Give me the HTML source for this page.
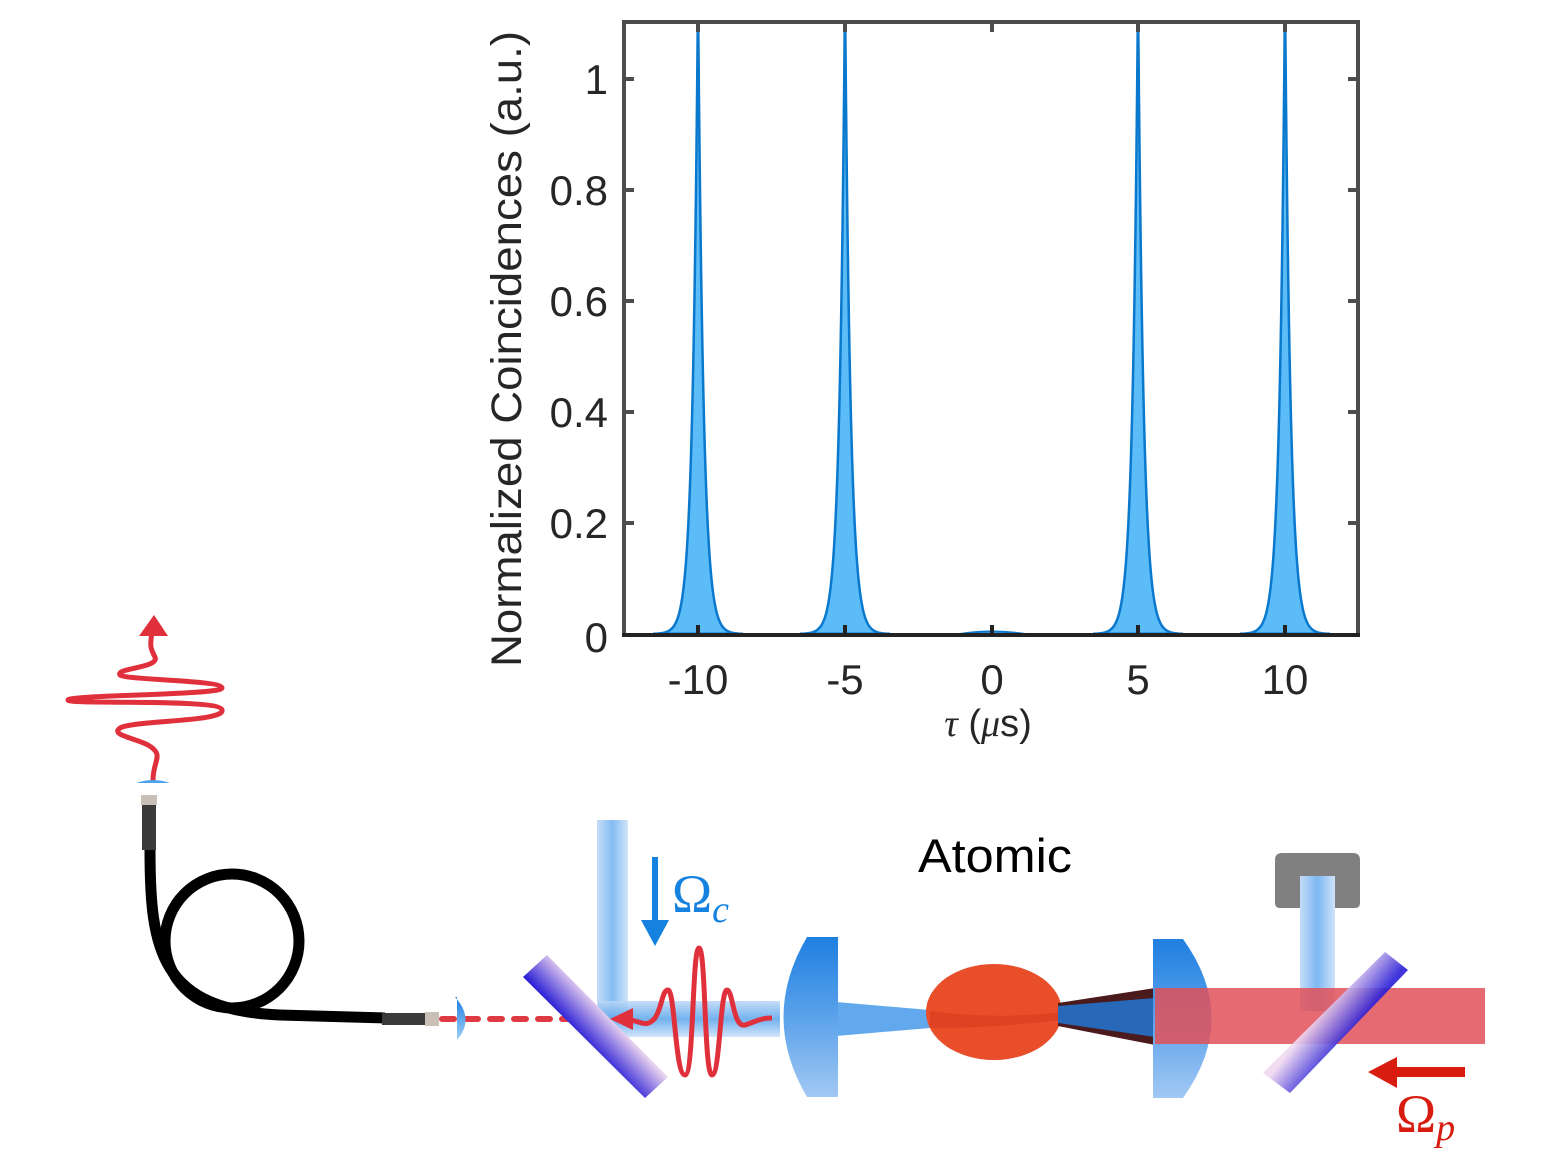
<!DOCTYPE html>
<html><head><meta charset="utf-8"><style>
html,body{margin:0;padding:0;background:#fff;}
svg{display:block}
text{font-family:"Liberation Sans",sans-serif;}
</style></head><body>
<svg id="s" width="1552" height="1155" viewBox="0 0 1552 1155" xmlns="http://www.w3.org/2000/svg">
<defs>
<clipPath id="pc"><rect x="626" y="24" width="730" height="610"/></clipPath>
<linearGradient id="mir1" gradientUnits="userSpaceOnUse" x1="582" y1="1039" x2="609" y2="1014">
<stop offset="0" stop-color="#2a1fd6"/><stop offset="1" stop-color="#f0d8f0"/></linearGradient>
<linearGradient id="mir2" gradientUnits="userSpaceOnUse" x1="1351" y1="1033" x2="1322" y2="1010">
<stop offset="0" stop-color="#2a1fd6"/><stop offset="1" stop-color="#f0d8f0"/></linearGradient>
<linearGradient id="lensg" x1="0" y1="0" x2="0" y2="1">
<stop offset="0" stop-color="#1f7fe0"/><stop offset="0.5" stop-color="#5aa2ea"/><stop offset="1" stop-color="#a2c8f3"/></linearGradient>
<linearGradient id="vbeam" x1="0" y1="0" x2="1" y2="0">
<stop offset="0" stop-color="#bcd8f6"/><stop offset="0.5" stop-color="#6fb0f0"/><stop offset="1" stop-color="#c9e0f8"/></linearGradient>
<linearGradient id="hbeam" x1="0" y1="0" x2="0" y2="1">
<stop offset="0" stop-color="#bcd8f6"/><stop offset="0.5" stop-color="#5aa4ec"/><stop offset="1" stop-color="#c9e0f8"/></linearGradient>
<linearGradient id="fibl" x1="0" y1="0" x2="0" y2="1">
<stop offset="0" stop-color="#1f7fe0"/><stop offset="1" stop-color="#9fd0f6"/></linearGradient>
</defs>

<g id="peaks" clip-path="url(#pc)"></g>
<rect x="624" y="22" width="734" height="613" fill="none" stroke="#4d4d4d" stroke-width="4"/>
<line x1="622" y1="635" x2="1360" y2="635" stroke="#222" stroke-width="4"/>
<g stroke="#4d4d4d" stroke-width="4">
<line x1="624" y1="79" x2="634" y2="79"/><line x1="624" y1="190" x2="634" y2="190"/><line x1="624" y1="301" x2="634" y2="301"/><line x1="624" y1="412" x2="634" y2="412"/><line x1="624" y1="523" x2="634" y2="523"/>
<line x1="1358" y1="79" x2="1348" y2="79"/><line x1="1358" y1="190" x2="1348" y2="190"/><line x1="1358" y1="301" x2="1348" y2="301"/><line x1="1358" y1="412" x2="1348" y2="412"/><line x1="1358" y1="523" x2="1348" y2="523"/>
<line x1="698" y1="22" x2="698" y2="32"/><line x1="845" y1="22" x2="845" y2="32"/><line x1="992" y1="22" x2="992" y2="32"/><line x1="1138" y1="22" x2="1138" y2="32"/><line x1="1285" y1="22" x2="1285" y2="32"/>
</g>
<g stroke="#222" stroke-width="4">
<line x1="698" y1="635" x2="698" y2="625"/><line x1="845" y1="635" x2="845" y2="625"/><line x1="992" y1="635" x2="992" y2="625"/><line x1="1138" y1="635" x2="1138" y2="625"/><line x1="1285" y1="635" x2="1285" y2="625"/>
</g>
<g font-size="42" fill="#262626" text-anchor="end">
<text x="608" y="94">1</text><text x="608" y="205">0.8</text><text x="608" y="316">0.6</text><text x="608" y="427">0.4</text><text x="608" y="538">0.2</text><text x="608" y="652">0</text>
</g>
<g font-size="42" fill="#262626" text-anchor="middle">
<text x="698" y="694">-10</text><text x="845" y="694">-5</text><text x="992" y="694">0</text><text x="1138" y="694">5</text><text x="1285" y="694">10</text>
</g>
<text x="988" y="736" font-size="38" fill="#262626" text-anchor="middle"><tspan style="font-family:'Liberation Serif',serif;font-style:italic">τ</tspan> (<tspan style="font-family:'Liberation Serif',serif;font-style:italic">μ</tspan>s)</text>
<text transform="translate(521,349) rotate(-90)" font-size="43" fill="#262626" text-anchor="middle" textLength="636" lengthAdjust="spacingAndGlyphs">Normalized Coincidences (a.u.)</text>

<path d="M153,780 C153,760 165,755 148,745 C135,738 110,735 120,728 C135,720 225,722 222,710 C220,698 68,705 68,700 C68,695 222,695 222,688 C222,680 125,680 120,675 C115,668 160,668 155,657 C150,648 150,645 152,632" fill="none" stroke="#e0303c" stroke-width="5" stroke-linecap="round"/>
<polygon points="139,636 154,615 168,636" fill="#e0303c"/>
<path d="M136,783 Q153,777 170,783 Z" fill="#4da3ea"/>
<rect x="141" y="795" width="16" height="10" fill="#c8bfb6"/>
<rect x="142" y="805" width="14" height="45" fill="#3a3a3a"/>
<path d="M150,850 C150,950 160,1010 280,1015 L385,1018" fill="none" stroke="#000" stroke-width="11"/>
<circle cx="232" cy="941" r="67" fill="none" stroke="#000" stroke-width="11"/>
<rect x="382" y="1013" width="45" height="12" fill="#3a3a3a"/>
<rect x="425" y="1012" width="14" height="14" fill="#c8bfb6"/>
<line x1="442" y1="1019" x2="608" y2="1019" stroke="#e03a44" stroke-width="6" stroke-dasharray="12,12" stroke-linecap="round"/>
<path d="M455,997 Q475,1019 457,1040 L457,997 Z" fill="url(#fibl)"/>

<rect x="597" y="820" width="31" height="200" fill="url(#vbeam)" opacity="0.85"/>
<rect x="598" y="1001" width="182" height="36" fill="url(#hbeam)" opacity="0.85"/>
<polygon points="836,1002 930,1010 930,1028 836,1036" fill="#62a8ec"/>
<polygon points="523,977 547,955 668,1077 645,1098" fill="url(#mir1)"/>
<path d="M622,1019 C640,1019 645,1030 655,1018 C662,1008 662,990 668,990 C675,990 675,1075 685,1075 C694,1075 692,948 699,948 C706,948 704,1075 712,1075 C720,1075 720,990 727,990 C733,990 733,1028 745,1025 C755,1022 760,1018 772,1018" fill="none" stroke="#e0303c" stroke-width="5"/>
<polygon points="610,1019 633,1008 633,1030" fill="#e0303c"/>
<path d="M807,937 L838,937 L838,1097 L807,1097 Q760,1017 807,937 Z" fill="url(#lensg)"/>
<ellipse cx="994" cy="1012" rx="68" ry="48" fill="#e84e2a"/>
<path d="M930,1011 Q995,1020 1062,1012 L1062,1020 Q995,1028 930,1028 Z" fill="#d63c1e" opacity="0.6"/>
<polygon points="1058,1003 1155,988 1155,1045 1058,1026" fill="#4a1a1c"/>
<polygon points="1058,1006 1155,998 1155,1037 1058,1023" fill="#2868b8"/>
<path d="M1275,860 Q1275,853 1282,853 L1353,853 Q1360,853 1360,860 L1360,903 Q1360,908 1355,908 L1335,908 L1335,876 L1300,876 L1300,908 L1280,908 Q1275,908 1275,903 Z" fill="#808080"/>
<rect x="1300" y="876" width="35" height="135" fill="url(#vbeam)" opacity="0.9"/>
<path d="M1153,939 L1183,939 Q1240,1018 1183,1098 L1153,1098 Z" fill="url(#lensg)"/>
<rect x="1155" y="988" width="330" height="56" fill="#e05058" opacity="0.85"/>
<polygon points="1385,952 1408,970 1290,1093 1263,1073" fill="url(#mir2)" opacity="0.9"/>
<line x1="1465" y1="1072" x2="1395" y2="1072" stroke="#d81c10" stroke-width="10"/>
<polygon points="1368,1072 1397,1057 1397,1088" fill="#d81c10"/>
<text x="1396" y="1132" style="font-family:'Liberation Serif',serif" font-size="54" fill="#d81c10">Ω<tspan font-style="italic" font-size="38" dy="8">p</tspan></text>
<line x1="655" y1="857" x2="655" y2="925" stroke="#1682e0" stroke-width="6"/>
<polygon points="641,920 655,946 669,920" fill="#1682e0"/>
<text x="672" y="912" style="font-family:'Liberation Serif',serif" font-size="54" fill="#1682e0">Ω<tspan font-style="italic" font-size="38" dy="10">c</tspan></text>
<text x="918" y="872" font-size="47" fill="#000" textLength="154" lengthAdjust="spacingAndGlyphs">Atomic</text>
</svg>
<script>
(function(){
var g=document.getElementById('peaks');var ns='http://www.w3.org/2000/svg';
[698,845,1138,1285].forEach(function(c){
 var pts=[];for(var dx=-45;dx<=45;dx+=0.5){var h=640*Math.exp(-Math.abs(dx)/5.5);pts.push((c+dx).toFixed(1)+','+(634-h).toFixed(1));}
 var p=document.createElementNS(ns,'path');p.setAttribute('d','M'+pts.join(' L')+' Z');
 p.setAttribute('fill','#5bbcf8');p.setAttribute('stroke','#0a78cc');p.setAttribute('stroke-width','2.5');g.appendChild(p);
});
var b=document.createElementNS(ns,'path');b.setAttribute('d','M960,634 Q992,629 1025,634 Z');b.setAttribute('fill','#5bbcf8');b.setAttribute('stroke','#0a78cc');b.setAttribute('stroke-width','2');g.appendChild(b);
})();
</script>
</body></html>
